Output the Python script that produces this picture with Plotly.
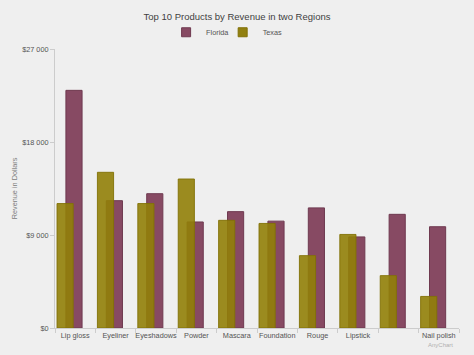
import plotly.graph_objects as go

categories = ["Lip gloss", "Eyeliner", "Eyeshadows", "Powder", "Mascara",
              "Foundation", "Rouge", "Lipstick", "Eyebrow pencil", "Nail polish"]
tick_labels = ["Lip gloss", "Eyeliner", "Eyeshadows", "Powder", "Mascara",
               "Foundation", "Rouge", "Lipstick", "", "Nail polish"]
florida = [22998, 12321, 12998, 10261, 11261, 10342, 11624, 8814, 11000, 9800]
texas = [12043, 15067, 12043, 14419, 10419, 10119, 7004, 9054, 5067, 3054]

y_ticks = [0, 9000, 18000, 27000]
y_tick_labels = ["$0", "$9 000", "$18 000", "$27 000"]

FL_COLOR = "#874a63"
TX_COLOR = "rgba(145,127,8,0.9)"

fig = go.Figure()
fig.add_trace(go.Bar(
    name="Florida", x=categories, y=florida,
    offset=-0.23, width=0.40, showlegend=False,
    marker=dict(color=FL_COLOR, line=dict(color="#6f3a50", width=1)),
))
fig.add_trace(go.Bar(
    name="Texas", x=categories, y=texas,
    offset=-0.45, width=0.40, showlegend=False,
    marker=dict(color=TX_COLOR, line=dict(color="rgba(130,113,6,0.9)", width=1)),
))
# legend entries (no data)
fig.add_trace(go.Scatter(
    name="Florida", x=[None], y=[None], mode="markers", legend="legend",
    marker=dict(symbol="square", size=9, color=FL_COLOR, line=dict(color="#6f3a50", width=1)),
))
fig.add_trace(go.Scatter(
    name="Texas", x=[None], y=[None], mode="markers", legend="legend2",
    marker=dict(symbol="square", size=9, color="#918010", line=dict(color="#827106", width=1)),
))

legend_common = dict(orientation="h", xanchor="left", yanchor="middle", y=1.06,
                     font=dict(size=7.3, color="#545454"), bgcolor="rgba(0,0,0,0)",
                     itemsizing="trace", itemwidth=30,
                     itemclick=False, itemdoubleclick=False)

fig.update_layout(
    width=474, height=355,
    barmode="overlay",
    hovermode=False,
    paper_bgcolor="#efefef",
    plot_bgcolor="#efefef",
    margin=dict(l=55, r=15, t=49, b=27),
    font=dict(family="Liberation Sans, Arial, sans-serif", size=7, color="#7c7c7c"),
    title=dict(text="Top 10 Products by Revenue in two Regions",
               x=0.5, xanchor="center", y=0.952, yanchor="middle",
               font=dict(size=9.5, color="#3f3f3f")),
    legend=dict(x=0.275, **legend_common),
    legend2=dict(x=0.415, **legend_common),
    bargap=0,
    xaxis=dict(
        type="category",
        tickmode="array", tickvals=categories, ticktext=tick_labels,
        tickangle=0, automargin=False,
        showgrid=False, showline=True, linecolor="#cccccc", linewidth=1,
        ticks="outside", tickson="boundaries", ticklen=4, tickcolor="#cccccc",
        tickfont=dict(size=7.3, color="#545454"),
        fixedrange=True,
    ),
    yaxis=dict(
        range=[0, 27000], automargin=False,
        tickmode="array", tickvals=y_ticks, ticktext=y_tick_labels,
        showgrid=False, zeroline=False,
        showline=True, linecolor="#cccccc", linewidth=1,
        ticks="outside", ticklen=4, tickcolor="#cccccc",
        tickfont=dict(size=7.3, color="#545454"),
        title=dict(text="Revenue in Dollars", font=dict(size=7.3, color="#7c7c7c"), standoff=3),
        fixedrange=True,
    ),
    annotations=[dict(text="AnyChart", xref="paper", yref="paper", x=0.99, y=-0.061,
                      xanchor="right", yanchor="middle", showarrow=False,
                      font=dict(size=6, color="#b0b0b0"))],
)

fig.write_html("out.html", config={"displayModeBar": False, "staticPlot": True},
               post_script="document.body.style.margin='0';document.body.style.overflow='hidden';")
